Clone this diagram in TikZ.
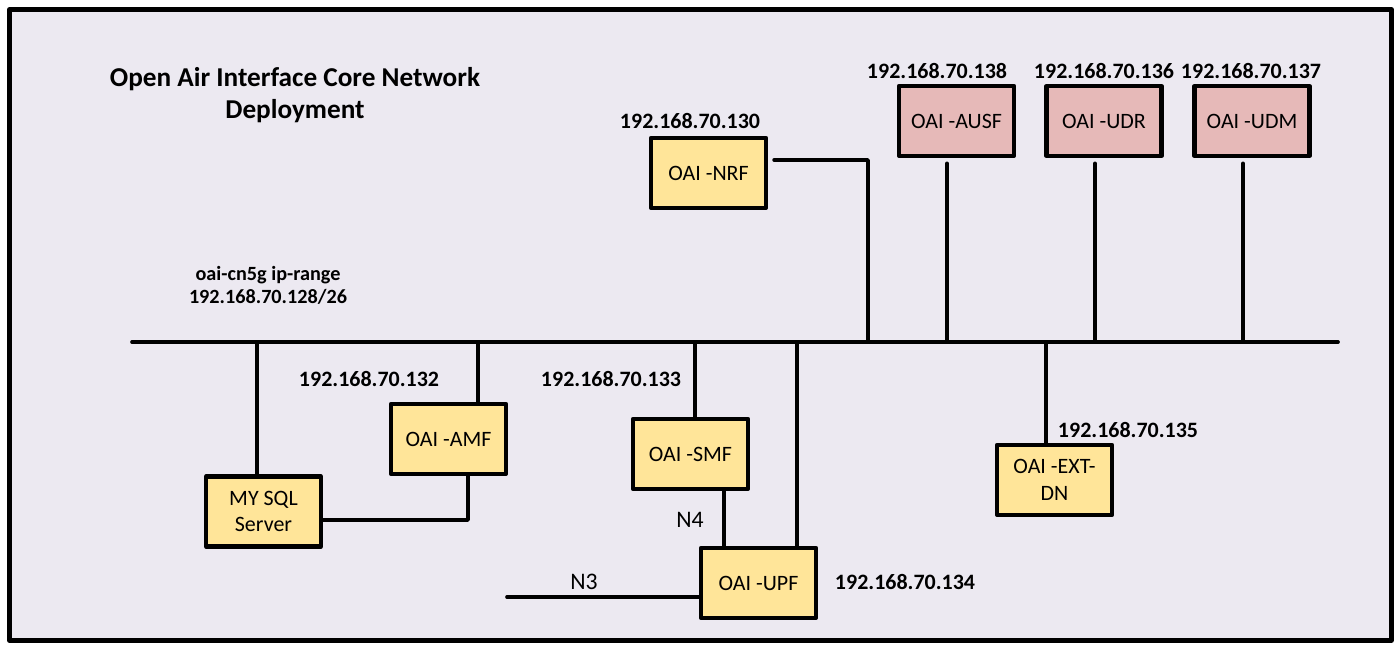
\documentclass[tikz,border=0pt]{standalone}
\usepackage{fontspec}
\setmainfont{Carlito}
\usetikzlibrary{positioning}
\definecolor{bgcol}{RGB}{236,233,241}
\definecolor{nfyellow}{RGB}{255,229,153}
\definecolor{nfpink}{RGB}{230,185,184}
\begin{document}
\begin{tikzpicture}[x=0.02cm, y=-0.02cm, line cap=round, line join=round,
    nfbox/.style={draw=black, line width=2.4pt, fill=nfyellow, minimum width=2.3cm,
      minimum height=1.4cm, align=center, font=\fontsize{12.5}{15}\selectfont},
    udbox/.style={nfbox, fill=nfpink},
    link/.style={line width=2.1pt},
    iplabel/.style={font=\bfseries\fontsize{12.5}{14}\selectfont}]
    % frame
    \useasboundingbox (0,0) rectangle (1400,651);
    \draw[line width=2.4pt, fill=bgcol] (9.5,9.5) rectangle (1391.5,640.5);

    % title
    \node[align=center, font=\bfseries\fontsize{15.5}{18.5}\selectfont] (title) at (295,95)
      {Open Air Interface Core Network\\Deployment};
    \node[align=center, font=\bfseries\fontsize{11.5}{13}\selectfont] (range) at (268,285)
      {oai-cn5g ip-range\\192.168.70.128/26};

    % bus
    \coordinate (busL) at (132,342);
    \coordinate (busR) at (1338,342);
    \draw[link] (busL) -- (busR);

    % bus taps
    \coordinate (b1) at (257,342);
    \coordinate (b2) at (478,342);
    \coordinate (b3) at (695,342);
    \coordinate (b4) at (797,342);
    \coordinate (bN) at (868,342);
    \coordinate (b6) at (947,342);
    \coordinate (b5) at (1046,342);
    \coordinate (b7) at (1095,342);
    \coordinate (b8) at (1243,342);

    % network functions
    \node[nfbox] (NRF) at (708.5,173) {OAI -NRF};
    \node[udbox] (AUSF) at (956.5,121) {OAI -AUSF};
    \node[udbox] (UDR) at (1104,121) {OAI -UDR};
    \node[udbox] (UDM) at (1252,121) {OAI -UDM};
    \node[nfbox] (AMF) at (448.5,439) {OAI -AMF};
    \node[nfbox] (SQL) at (263.5,511.5) {MY SQL\\Server};
    \node[nfbox] (SMF) at (690.5,454) {OAI -SMF};
    \node[nfbox] (UPF) at (758.5,583) {OAI -UPF};
    \node[nfbox] (EXT) at (1054.5,480) {OAI -EXT-\\DN};

    % addresses
    \node[iplabel] (ipNRF) at (690,121) {192.168.70.130};
    \node[iplabel] (ipAUSF) at (937,71) {192.168.70.138};
    \node[iplabel] (ipUDR) at (1104,71) {192.168.70.136};
    \node[iplabel] (ipUDM) at (1251,71) {192.168.70.137};
    \node[iplabel] (ipAMF) at (369,379) {192.168.70.132};
    \node[iplabel] (ipSMF) at (611,379) {192.168.70.133};
    \node[iplabel] (ipUPF) at (905,582) {192.168.70.134};
    \node[iplabel] (ipEXT) at (1128,430) {192.168.70.135};

    % links to the bus
    \draw[link] ([shift={(6,-13)}]NRF.east) -| (bN);
    \draw[link, shorten >=3pt] (b6) -- (b6 |- AUSF.south);
    \draw[link, shorten >=3pt] (b7) -- (b7 |- UDR.south);
    \draw[link, shorten >=3pt] (b8) -- (b8 |- UDM.south);
    \draw[link] (b1) -- (b1 |- SQL.north);
    \draw[link] (b2) -- (b2 |- AMF.north);
    \draw[link] (b3) -- (b3 |- SMF.north);
    \draw[link] (b4) -- (b4 |- UPF.north);
    \draw[link] (b5) -- (b5 |- EXT.north);

    % SQL to AMF
    \draw[link] ([shift={(0,8.5)}]SQL.east) -| ([shift={(19.5,0)}]AMF.south);

    % N4 and N3
    \coordinate (smfB) at ([shift={(33.5,0)}]SMF.south);
    \draw[link] (smfB) -- (smfB |- UPF.north);
    \node[font=\fontsize{13.5}{16}\selectfont] (N4) at (690,520) {N4};
    \coordinate (n3) at (507,597);
    \draw[link] (n3) -- (n3 -| UPF.west);
    \node[font=\fontsize{13.5}{16}\selectfont] (N3) at (584,582) {N3};
  \end{tikzpicture}
\end{document}
